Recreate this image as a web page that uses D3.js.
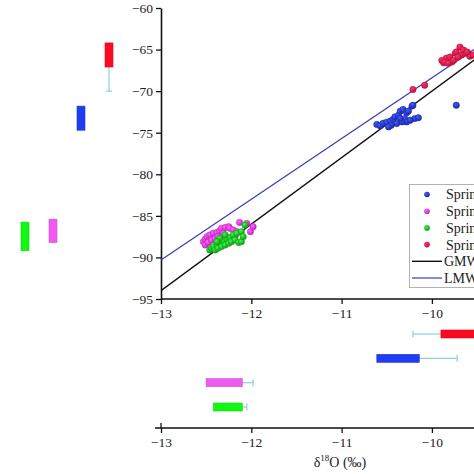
<!DOCTYPE html>
<html><head><meta charset="utf-8">
<script src="https://cdn.jsdelivr.net/npm/d3@7"></script>
<style>html,body{margin:0;padding:0;background:#fff;}svg{display:block;}</style>
</head><body>
<svg id="c" width="474" height="474"></svg>
<script>
// ---------- data ----------
const seriesNames = ["Spring 1", "Spring 2", "Spring 3", "Spring 4"];
const lineNames = ["GMWL", "LMWL"];
const xTicks = [-13, -12, -11, -10];
const yTicks = [-95, -90, -85, -80, -75, -70, -65, -60];

// [δ18O, δD]
const spring1 = [[-10.61,-74.0],[-10.575,-74.16],[-10.54,-73.87],[-10.50,-73.75],[-10.46,-73.6],[-10.43,-73.4],
  [-10.41,-73.1],[-10.37,-72.9],[-10.35,-72.4],[-10.32,-72.2],[-10.28,-72.6],[-10.26,-72.4],[-10.22,-71.8],
  [-10.21,-71.7],[-10.30,-73.3],[-10.28,-73.7],[-10.33,-73.7],[-10.39,-73.9],[-10.45,-74.1],[-10.48,-74.3],
  [-10.19,-73.3],[-10.15,-73.2],[-10.24,-73.5],[-10.35,-73.3],[-9.73,-71.7]];
const spring2 = [[-12.53,-88.1],[-12.51,-87.8],[-12.49,-87.5],[-12.46,-87.3],[-12.42,-87.1],[-12.38,-87.0],
  [-12.35,-86.8],[-12.33,-86.5],[-12.29,-86.4],[-12.25,-86.3],[-12.24,-86.5],[-12.20,-86.7],[-12.16,-86.9],
  [-12.51,-88.5],[-12.48,-88.2],[-12.44,-87.9],[-12.40,-87.7],[-12.37,-87.5],[-12.31,-87.1],[-12.13,-85.8],
  [-12.05,-85.9],[-12.01,-86.9],[-11.98,-86.3],[-12.18,-87.5]];
const spring3 = [[-12.46,-89.1],[-12.44,-88.9],[-12.42,-88.7],[-12.38,-88.5],[-12.35,-88.2],[-12.31,-88.0],
  [-12.27,-87.8],[-12.24,-87.6],[-12.20,-87.3],[-12.16,-87.1],[-12.11,-86.9],[-12.07,-86.1],[-12.40,-89.1],
  [-12.37,-88.9],[-12.33,-88.7],[-12.29,-88.5],[-12.25,-88.3],[-12.22,-88.1],[-12.18,-87.9],[-12.14,-88.2],
  [-12.11,-88.1],[-12.09,-87.5],[-12.29,-87.3],[-12.35,-87.7],[-12.38,-88.1]];
const spring4 = [[-10.21,-69.8],[-10.08,-69.3],[-9.89,-66.3],[-9.87,-66.6],[-9.84,-66.05],[-9.80,-65.9],
  [-9.78,-66.5],[-9.74,-65.45],[-9.73,-65.3],[-9.69,-64.7],[-9.67,-65.65],[-9.63,-65.45],[-9.60,-65.45],
  [-9.58,-65.8],[-9.54,-65.65],[-9.86,-66.5],[-9.82,-66.65],[-9.76,-66.3],[-9.71,-65.9],[-9.65,-65.05],
  [-9.61,-65.3],[-9.48,-65.4],[-9.42,-64.9]];

// meteoric water lines: [slope, intercept]
const gmwl = [8, 10];
const lmwl = [7.3, 4.6];

// box summaries per series: [whiskerLow, q1, q3, whiskerHigh]
const dDBox = [[-74.7,-74.7,-71.8,-71.8],[-88.2,-88.2,-85.4,-85.4],[-89.2,-89.2,-85.75,-85.75],[-70.0,-67.1,-64.2,-64.2]];
const d18OBox = [[-10.61,-10.61,-10.14,-9.72],[-12.50,-12.50,-12.10,-11.98],[-12.42,-12.42,-12.10,-12.05],[-10.21,-9.90,-9.45,-9.45]];
const boxOrder = ["Spring 4", "Spring 1", "Spring 2", "Spring 3"];

// ---------- styles ----------
const pointColors = ["#2a3cd6", "#e83fe4", "#22c82a", "#e41e4c"];
const boxColors = ["#1f3df2", "#f05af0", "#12f812", "#fa0a22"];
const whiskerColor = "#8ecfdf";
const font = "'Liberation Serif', 'Times New Roman', serif";
const fmt = d3.format("d");

const svg = d3.select("#c");
const x = d3.scaleLinear().domain([-13, -9]).range([161, 522.2]);
const y = d3.scaleLinear().domain([-95, -60]).range([299, 8]);

// gradients
const defs = svg.append("defs");
pointColors.forEach((c, i) => {
  const g = defs.append("radialGradient").attr("id", "g" + i).attr("cx", "38%").attr("cy", "35%").attr("r", "65%");
  g.append("stop").attr("offset", "0%").attr("stop-color", d3.color(c).brighter(1.3));
  g.append("stop").attr("offset", "55%").attr("stop-color", c);
  g.append("stop").attr("offset", "100%").attr("stop-color", d3.color(c).darker(0.8));
});
defs.append("clipPath").attr("id", "plot").append("rect")
  .attr("x", x(-13)).attr("y", y(-60)).attr("width", 474 - x(-13)).attr("height", y(-95) - y(-60));

// axes
const yAxis = svg.append("g").attr("transform", `translate(${x(-13)},0)`)
  .call(d3.axisLeft(y).tickValues(yTicks).tickFormat(fmt).tickSize(5).tickSizeOuter(0).tickPadding(3));
const xAxis = svg.append("g").attr("transform", `translate(0,${y(-95)})`)
  .call(d3.axisBottom(x).tickValues(xTicks).tickFormat(fmt).tickSize(5).tickSizeOuter(0).tickPadding(4));
xAxis.select(".domain").attr("d", `M${x(-13)},0H474`);

// lower marginal axis
const bottomY = 428;
const xAxis2 = svg.append("g").attr("transform", `translate(0,${bottomY})`)
  .call(d3.axisBottom(x).tickValues(xTicks).tickFormat(fmt).tickSize(5).tickSizeOuter(0).tickPadding(4));
xAxis2.select(".domain").attr("d", `M${x(-13) - 6},0H474`);
xAxis2.append("line").attr("x1", x(-13)).attr("x2", x(-13)).attr("y1", -5).attr("y2", 0).attr("stroke", "#000");

[yAxis, xAxis, xAxis2].forEach(a => {
  a.selectAll("text").attr("font-family", font).attr("font-size", 13.5).attr("fill", "#222");
  a.selectAll("line,path").attr("stroke", "#111").attr("stroke-width", 1.3);
});
xAxis.select(".domain").attr("stroke-width", 1.6);
xAxis2.select(".domain").attr("stroke-width", 1.6);
yAxis.select(".domain").attr("stroke-width", 1.6);

const title = svg.append("text").attr("x", 340).attr("y", 467).attr("text-anchor", "middle")
  .attr("font-family", font).attr("font-size", 14).attr("fill", "#222");
title.append("tspan").text("δ");
title.append("tspan").attr("font-size", 9).attr("dy", -6).text("18");
title.append("tspan").attr("dy", 6).text("O (‰)");

// water lines
const plot = svg.append("g").attr("clip-path", "url(#plot)");
const lineGen = p => d3.line()([[x(-13), y(p[0] * -13 + p[1])], [x(-9), y(p[0] * -9 + p[1])]]);
plot.append("path").attr("d", lineGen(gmwl)).attr("stroke", "#111").attr("stroke-width", 1.4).attr("fill", "none");
plot.append("path").attr("d", lineGen(lmwl)).attr("stroke", "#3540b5").attr("stroke-width", 1.2).attr("fill", "none");

// points
[spring1, spring2, spring3, spring4].forEach((pts, i) => {
  plot.append("g").selectAll("circle").data(pts).join("circle")
    .attr("cx", d => x(d[0])).attr("cy", d => y(d[1])).attr("r", 3.2)
    .attr("fill", `url(#g${i})`).attr("stroke", d3.color(pointColors[i]).darker(0.6)).attr("stroke-width", 0.5);
});

// legend
const lg = svg.append("g");
lg.append("rect").attr("x", 409.5).attr("y", 184.5).attr("width", 120).attr("height", 103)
  .attr("fill", "#fff").attr("stroke", "#a0a0a0").attr("stroke-width", 0.8);
const ly = d3.scalePoint().domain([...seriesNames, ...lineNames]).range([194.5, 278]);
seriesNames.forEach((n, i) => {
  lg.append("circle").attr("cx", 427).attr("cy", ly(n)).attr("r", 2.8).attr("fill", `url(#g${i})`);
  lg.append("text").attr("x", 446).attr("y", ly(n)).attr("dy", "0.35em").attr("font-family", font)
    .attr("font-size", 14).attr("fill", "#222").text(n);
});
const lineStyles = [["#111", 1.4], ["#3540b5", 1.2]];
lineNames.forEach((n, i) => {
  lg.append("line").attr("x1", 412).attr("x2", 442).attr("y1", ly(n)).attr("y2", ly(n))
    .attr("stroke", lineStyles[i][0]).attr("stroke-width", lineStyles[i][1]);
  lg.append("text").attr("x", 444).attr("y", ly(n)).attr("dy", "0.35em").attr("font-family", font)
    .attr("font-size", 14).attr("fill", "#222").text(n);
});

// left marginal box bars (δD)
const bx = d3.scalePoint().domain(boxOrder).range([109, 25]);
const bw = 8;
seriesNames.forEach((n, i) => {
  const b = dDBox[i], cx = bx(n);
  const g = svg.append("g");
  if (b[0] < b[1]) {
    g.append("line").attr("x1", cx).attr("x2", cx).attr("y1", y(b[1])).attr("y2", y(b[0])).attr("stroke", whiskerColor).attr("stroke-width", 1.2);
    g.append("line").attr("x1", cx - 3).attr("x2", cx + 3).attr("y1", y(b[0])).attr("y2", y(b[0])).attr("stroke", whiskerColor).attr("stroke-width", 1.2);
  }
  if (b[3] > b[2]) {
    g.append("line").attr("x1", cx).attr("x2", cx).attr("y1", y(b[2])).attr("y2", y(b[3])).attr("stroke", whiskerColor).attr("stroke-width", 1.2);
    g.append("line").attr("x1", cx - 3).attr("x2", cx + 3).attr("y1", y(b[3])).attr("y2", y(b[3])).attr("stroke", whiskerColor).attr("stroke-width", 1.2);
  }
  g.append("rect").attr("x", cx - bw / 2).attr("y", y(b[2])).attr("width", bw).attr("height", y(b[1]) - y(b[2]))
    .attr("fill", boxColors[i]).attr("stroke", d3.color(boxColors[i]).darker(0.4)).attr("stroke-width", 0.6);
});

// bottom marginal box bars (δ18O)
const by = d3.scalePoint().domain(boxOrder).range([334, 407]);
seriesNames.forEach((n, i) => {
  const b = d18OBox[i], cy = by(n);
  const g = svg.append("g");
  if (b[0] < b[1]) {
    g.append("line").attr("y1", cy).attr("y2", cy).attr("x1", x(b[0])).attr("x2", x(b[1])).attr("stroke", whiskerColor).attr("stroke-width", 1.2);
    g.append("line").attr("y1", cy - 3.5).attr("y2", cy + 3.5).attr("x1", x(b[0])).attr("x2", x(b[0])).attr("stroke", whiskerColor).attr("stroke-width", 1.2);
  }
  if (b[3] > b[2]) {
    g.append("line").attr("y1", cy).attr("y2", cy).attr("x1", x(b[2])).attr("x2", x(b[3])).attr("stroke", whiskerColor).attr("stroke-width", 1.2);
    g.append("line").attr("y1", cy - 3.5).attr("y2", cy + 3.5).attr("x1", x(b[3])).attr("x2", x(b[3])).attr("stroke", whiskerColor).attr("stroke-width", 1.2);
  }
  g.append("rect").attr("y", cy - bw / 2).attr("x", x(b[1])).attr("height", bw).attr("width", x(b[2]) - x(b[1]))
    .attr("fill", boxColors[i]).attr("stroke", d3.color(boxColors[i]).darker(0.4)).attr("stroke-width", 0.6);
});
</script>
</body></html>
